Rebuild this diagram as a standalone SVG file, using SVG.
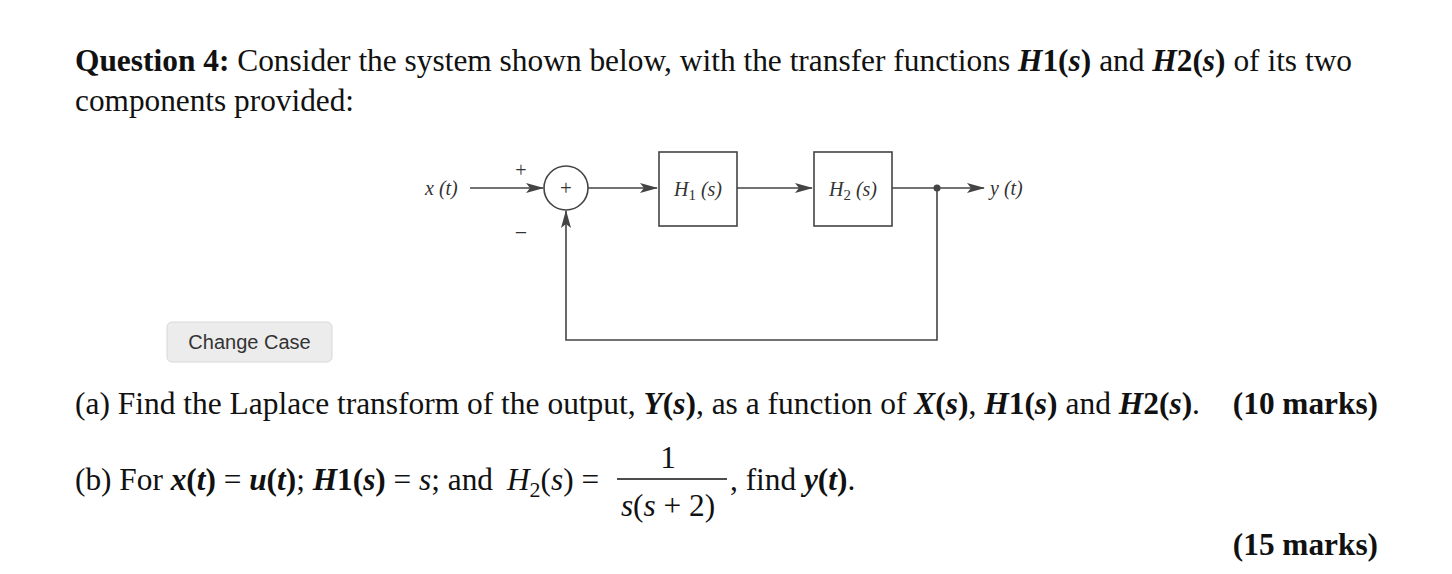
<svg xmlns="http://www.w3.org/2000/svg" width="1452" height="574" viewBox="0 0 1452 574">
<style>
.t{font-family:"Liberation Serif",serif;font-size:31.3px;fill:#111}
.d{font-family:"Liberation Serif",serif;font-size:20px;fill:#333;font-style:italic}
.ln{stroke:#444;stroke-width:1.6;fill:none}
</style>
<defs><marker id="a" markerWidth="18" markerHeight="10" refX="17" refY="5" orient="auto" markerUnits="userSpaceOnUse"><path d="M0,0 L18,5 L0,10 L4,5Z" fill="#444"/></marker></defs>
<rect width="1452" height="574" fill="#fff"/>
<text class="t" x="75" y="71" textLength="1277" lengthAdjust="spacingAndGlyphs"><tspan font-weight="bold">Question 4:</tspan> Consider the system shown below, with the transfer functions <tspan font-weight="bold" font-style="italic">H</tspan><tspan font-weight="bold">1(</tspan><tspan font-weight="bold" font-style="italic">s</tspan><tspan font-weight="bold">)</tspan> and <tspan font-weight="bold" font-style="italic">H</tspan><tspan font-weight="bold">2(</tspan><tspan font-weight="bold" font-style="italic">s</tspan><tspan font-weight="bold">)</tspan> of its two</text>
<text class="t" x="75" y="111">components provided:</text>
<g id="connectors">
<path class="ln" d="M470,188 H543" marker-end="url(#a)"/>
<path class="ln" d="M588,188 H657" marker-end="url(#a)"/>
<path class="ln" d="M737,188 H812" marker-end="url(#a)"/>
<path class="ln" d="M892,188 H984" marker-end="url(#a)"/>
<path class="ln" d="M937,188 V340 H566 V211" marker-end="url(#a)"/>
<circle cx="937" cy="188" r="3.5" fill="#444"/>
</g>
<g id="xt"><text class="d" x="425" y="195">x (t)</text></g>
<g id="sum"><circle class="ln" cx="566" cy="188" r="22"/><text x="566" y="195" text-anchor="middle" font-family="Liberation Serif" font-size="21" fill="#333">+</text>
<text x="521" y="177" text-anchor="middle" font-family="Liberation Serif" font-size="20" fill="#333">+</text>
<text x="521" y="240" text-anchor="middle" font-family="Liberation Serif" font-size="22" fill="#333">−</text></g>
<g id="h1"><rect class="ln" x="659" y="152" width="78" height="74"/><text class="d" x="698" y="196" text-anchor="middle">H<tspan font-style="normal" font-size="15" dy="4">1</tspan><tspan dy="-4"> (s)</tspan></text></g>
<g id="h2"><rect class="ln" x="814" y="152" width="78" height="74"/><text class="d" x="853" y="196" text-anchor="middle">H<tspan font-style="normal" font-size="15" dy="4">2</tspan><tspan dy="-4"> (s)</tspan></text></g>
<g id="yt"><text class="d" x="990" y="195">y (t)</text></g>
<g id="btn"><rect x="167" y="322" width="165" height="40" rx="5" fill="#ececec" stroke="#d8d8d8"/><text x="249.5" y="349" text-anchor="middle" font-family="Liberation Sans,sans-serif" font-size="20" fill="#333">Change Case</text></g>
<text class="t" x="75" y="414" textLength="1125" lengthAdjust="spacingAndGlyphs">(a) Find the Laplace transform of the output, <tspan font-weight="bold" font-style="italic">Y</tspan><tspan font-weight="bold">(</tspan><tspan font-weight="bold" font-style="italic">s</tspan><tspan font-weight="bold">)</tspan>, as a function of <tspan font-weight="bold" font-style="italic">X</tspan><tspan font-weight="bold">(</tspan><tspan font-weight="bold" font-style="italic">s</tspan><tspan font-weight="bold">)</tspan>, <tspan font-weight="bold" font-style="italic">H</tspan><tspan font-weight="bold">1(</tspan><tspan font-weight="bold" font-style="italic">s</tspan><tspan font-weight="bold">)</tspan> and <tspan font-weight="bold" font-style="italic">H</tspan><tspan font-weight="bold">2(</tspan><tspan font-weight="bold" font-style="italic">s</tspan><tspan font-weight="bold">)</tspan>.</text>
<text class="t" x="1378" y="414" text-anchor="end" font-weight="bold">(10 marks)</text>
<text class="t" x="75" y="490" textLength="418" lengthAdjust="spacingAndGlyphs">(b) For <tspan font-weight="bold" font-style="italic">x</tspan><tspan font-weight="bold">(</tspan><tspan font-weight="bold" font-style="italic">t</tspan><tspan font-weight="bold">)</tspan> = <tspan font-weight="bold" font-style="italic">u</tspan><tspan font-weight="bold">(</tspan><tspan font-weight="bold" font-style="italic">t</tspan><tspan font-weight="bold">)</tspan>; <tspan font-weight="bold" font-style="italic">H</tspan><tspan font-weight="bold">1(</tspan><tspan font-weight="bold" font-style="italic">s</tspan><tspan font-weight="bold">)</tspan> = <tspan font-style="italic">s</tspan>; and</text>
<text class="t" x="507" y="490"><tspan font-style="italic">H</tspan><tspan font-size="22" dy="7">2</tspan><tspan dy="-7">(</tspan><tspan font-style="italic">s</tspan>) =</text>
<text class="t" x="668" y="468" text-anchor="middle">1</text>
<line x1="617" y1="479" x2="727" y2="479" stroke="#111" stroke-width="1.5"/>
<text class="t" x="668" y="516" text-anchor="middle"><tspan font-style="italic">s</tspan>(<tspan font-style="italic">s</tspan> + 2)</text>
<text class="t" x="730" y="490">, find <tspan font-weight="bold" font-style="italic">y</tspan><tspan font-weight="bold">(</tspan><tspan font-weight="bold" font-style="italic">t</tspan><tspan font-weight="bold">)</tspan>.</text>
<text class="t" x="1378" y="555" text-anchor="end" font-weight="bold">(15 marks)</text>
</svg>
